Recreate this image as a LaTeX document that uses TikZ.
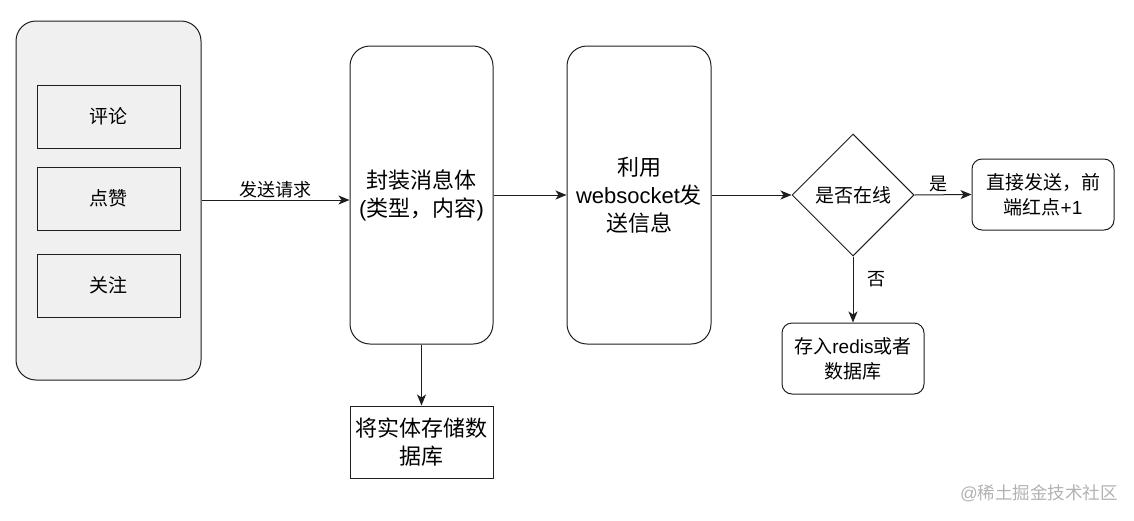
\documentclass[tikz,border=0pt]{standalone}
\usepackage{fontspec}
\setmainfont{Liberation Sans}
\newfontfamily\cjk{Noto Sans CJK SC}
\newcommand{\zh}[1]{{\cjk #1}}
\usetikzlibrary{shapes.geometric,arrows.meta}
\definecolor{panelgray}{RGB}{240,240,240}
\definecolor{linegray}{RGB}{30,30,30}
\begin{document}
\begin{tikzpicture}[x=1pt,y=-1pt,
  box/.style={draw=linegray, line width=1pt, inner sep=0pt, align=center},
  bigtxt/.style={font=\fontsize{22}{28}\selectfont},
  smalltxt/.style={font=\fontsize{19}{25}\selectfont},
  conn/.style={draw=linegray, line width=1pt, -{Stealth[length=11pt,width=9pt,inset=3pt]}},
  lbl/.style={font=\fontsize{18}{22}\selectfont, inner sep=2pt}
]
\useasboundingbox (0,0) rectangle (1134,520);

% left panel
\node[box, fill=panelgray, rounded corners=20pt, minimum width=185pt, minimum height=359pt] (panel) at (108.5,200.5) {};
\node[box, smalltxt, minimum width=143pt, minimum height=63pt] (pl) at (108.5,116.5) {\zh{评论}};
\node[box, smalltxt, minimum width=143pt, minimum height=63pt] (dz) at (108.5,198.5) {\zh{点赞}};
\node[box, smalltxt, minimum width=143pt, minimum height=63pt] (gz) at (108.5,285.5) {\zh{关注}};

% main column boxes
\node[box, bigtxt, rounded corners=20pt, minimum width=143pt, minimum height=298pt] (pack) at (421.5,195) {\zh{封装消息体}\\(\zh{类型，内容})};
\node[box, bigtxt, minimum width=143pt, minimum height=72pt] (db) at (421.5,442) {\zh{将实体存储数}\\\zh{据库}};
\node[box, bigtxt, rounded corners=20pt, minimum width=144pt, minimum height=298pt] (ws) at (639,195) {\zh{利用}\\websocket\zh{发}\\\zh{送信息}};

% decision
\node[box, smalltxt, diamond, minimum width=122pt, minimum height=122pt] (online) at (853,195) {\zh{是否在线}};
\node[box, smalltxt, rounded corners=10pt, minimum width=142pt, minimum height=71pt] (send) at (1043,194.5) {\zh{直接发送，前}\\\zh{端红点}+1};
\node[box, smalltxt, rounded corners=10pt, minimum width=142pt, minimum height=71pt] (store) at (853,358.5) {\zh{存入}redis\zh{或者}\\\zh{数据库}};

% connectors
\coordinate (pin) at (panel.east |- 0,200);
\draw[conn] (pin) -- (pin -| pack.west) node[midway, above, lbl] {\zh{发送请求}};
\draw[conn] (pack.east) -- (ws.west);
\draw[conn] (pack.south) -- (db.north);
\draw[conn] (ws.east) -- (online.west);
\draw[conn] (online.east) -- (send.west) node[pos=0.42, above, lbl] {\zh{是}};
\draw[conn] (online.south) -- (store.north) node[pos=0.35, right, lbl, xshift=12pt] {\zh{否}};

% watermark
\node[anchor=east, text=gray!60, font=\fontsize{17.5}{20}\selectfont, inner sep=0pt] (wm) at (1118,493) {@\zh{稀土掘金技术社区}};
\end{tikzpicture}
\end{document}
